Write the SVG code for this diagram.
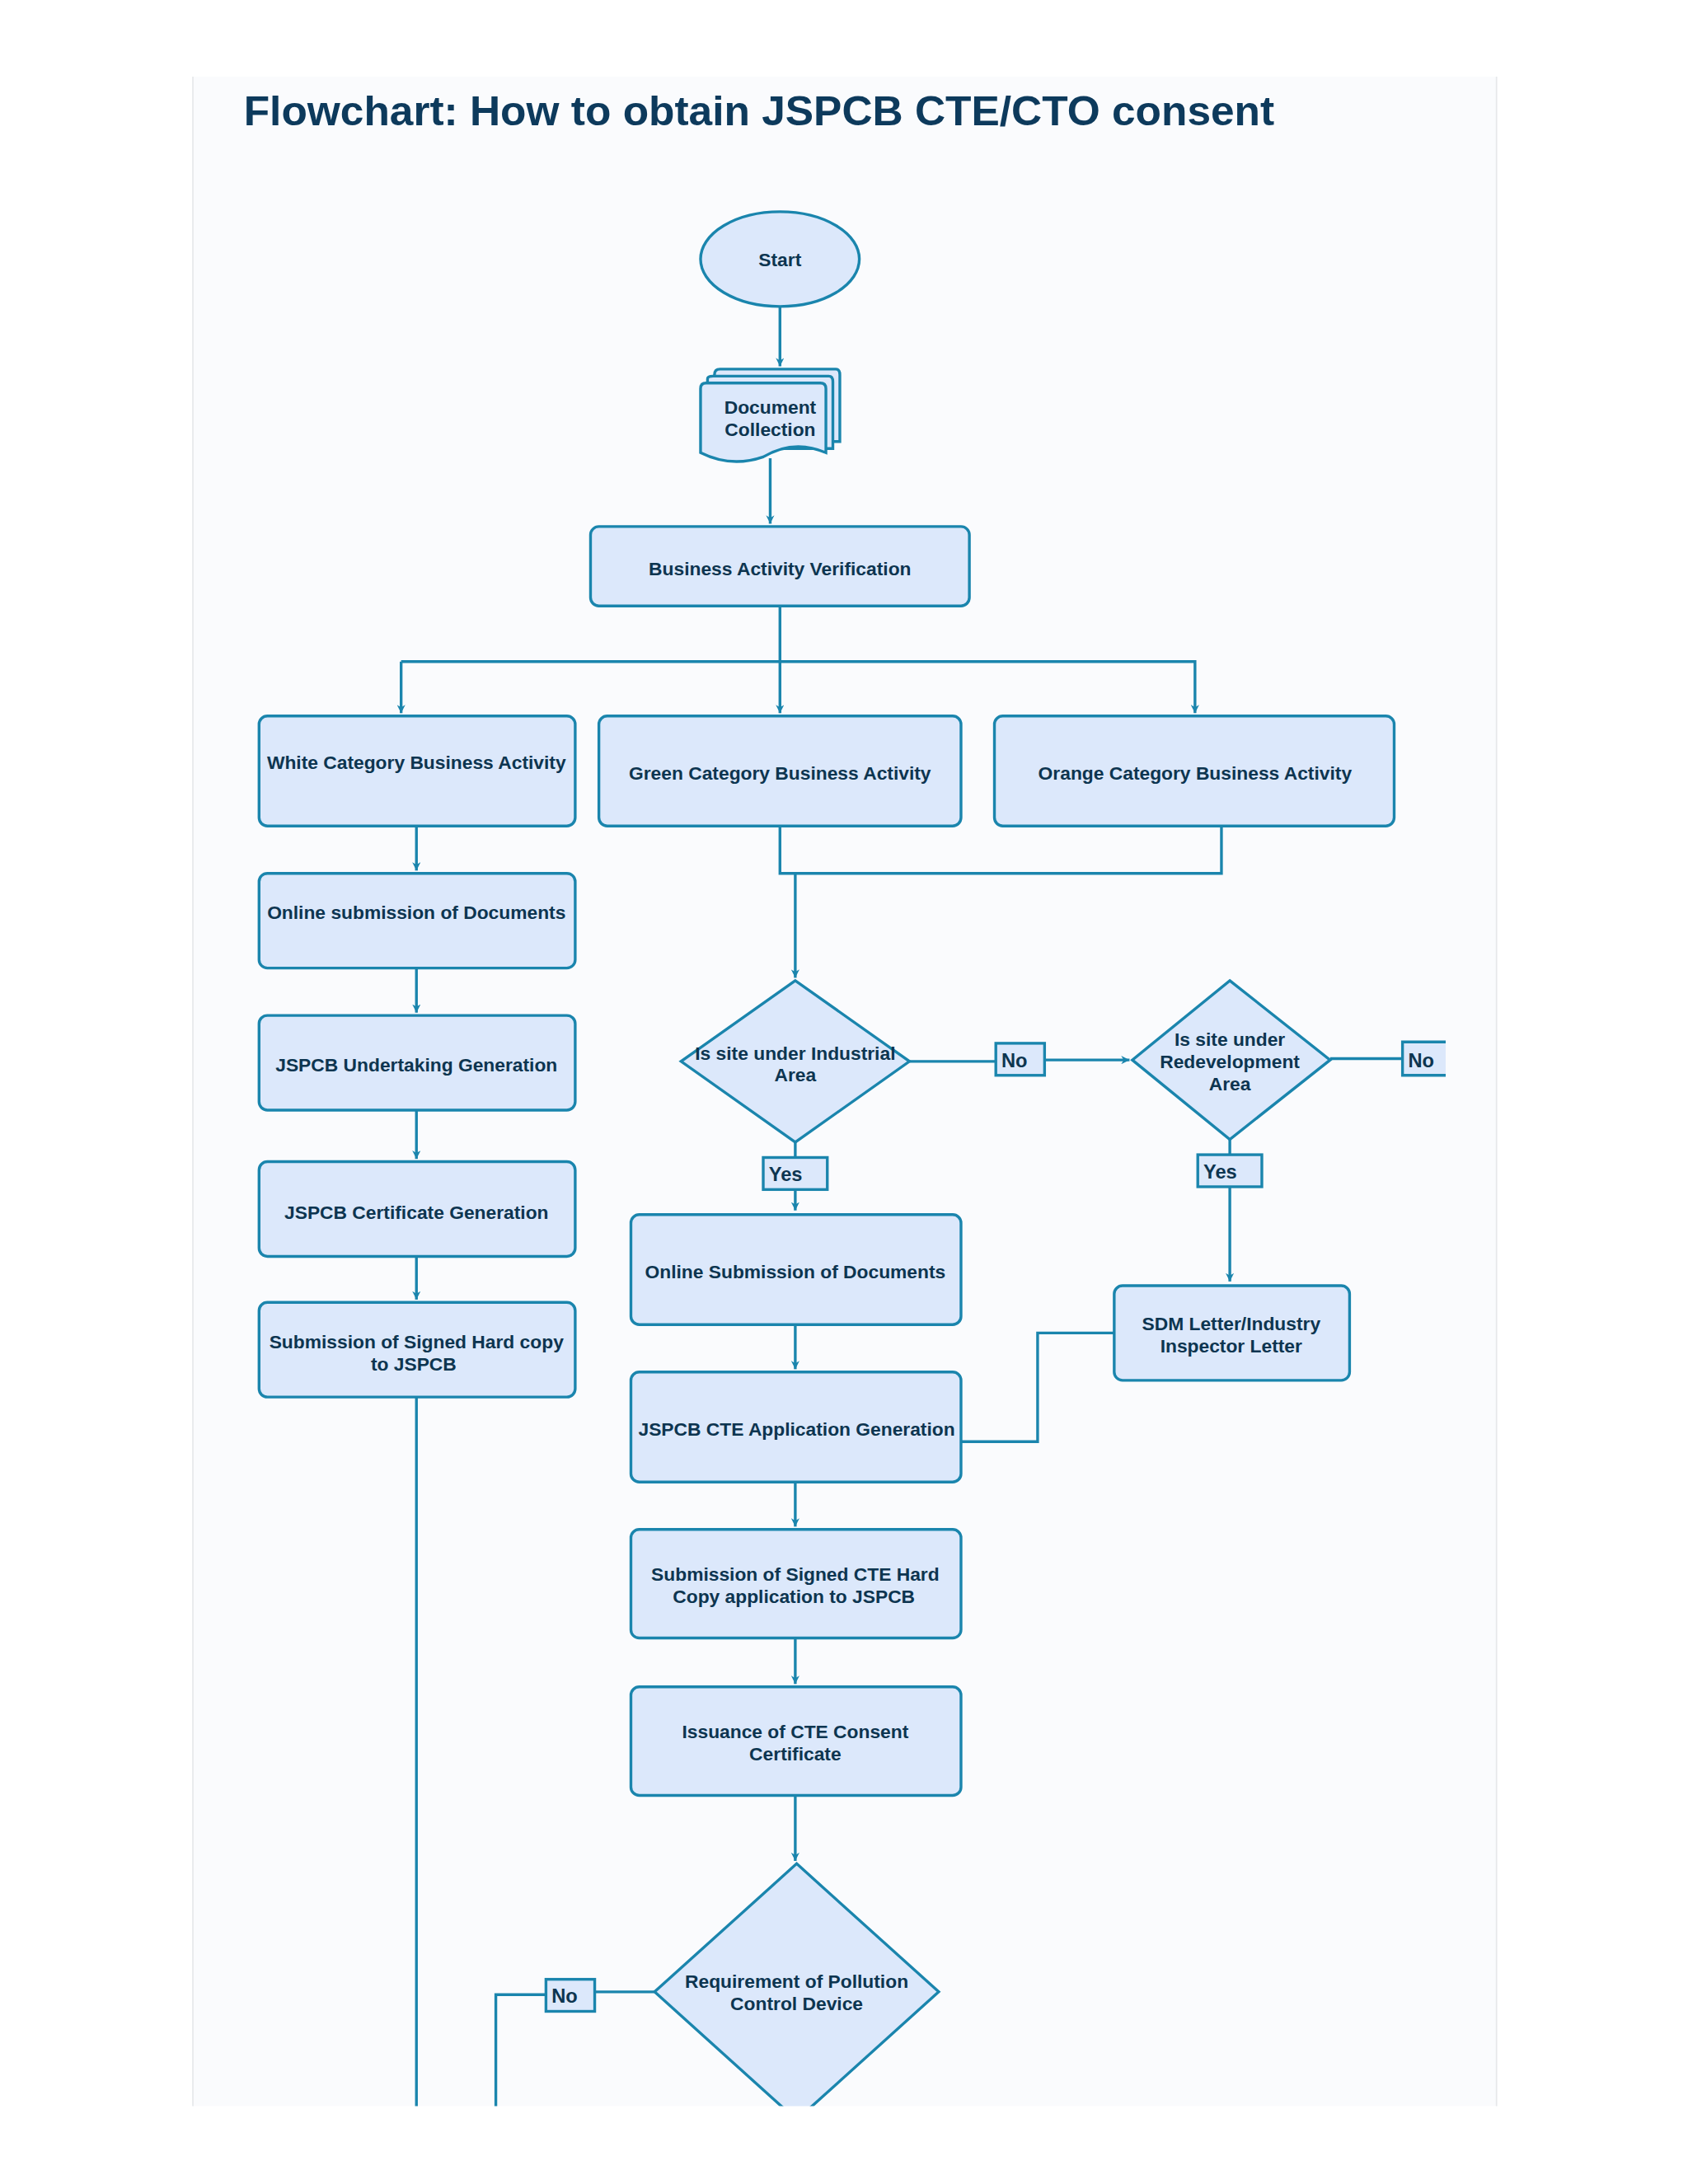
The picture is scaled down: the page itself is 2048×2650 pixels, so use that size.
<svg xmlns="http://www.w3.org/2000/svg" width="2048" height="2650" viewBox="0 0 2048 2650">
<defs>
<style>
.n{fill:#dce8fb;stroke:#1a85ad;stroke-width:2}
.c{fill:none;stroke:#1a85ad;stroke-width:2}
.t{font-family:"Liberation Sans",Arial,sans-serif;font-weight:bold;font-size:13.5px;fill:#0d3550;text-anchor:middle}
.lb{fill:#dce8fb;stroke:#1a85ad;stroke-width:2}
.lt{font-family:"Liberation Sans",Arial,sans-serif;font-weight:bold;font-size:14px;fill:#0d3550}
</style>
<marker id="a" viewBox="0 0 10 10" refX="10" refY="5" markerWidth="6" markerHeight="6" orient="auto" markerUnits="userSpaceOnUse">
<path d="M0,0 L10,5 L0,10 L3,5 Z" fill="#1a85ad"/>
</marker>
<clipPath id="cp"><rect x="0" y="0" width="1038" height="1512"/></clipPath>
</defs>
<rect width="2048" height="2650" fill="#ffffff"/>
<g transform="scale(1.6898,1.6901)">
<rect x="138" y="55" width="937" height="1457" fill="#fafbfd"/>
<line x1="138.5" y1="55" x2="138.5" y2="1512" stroke="#e6e8ea" stroke-width="1"/>
<line x1="1074.5" y1="55" x2="1074.5" y2="1512" stroke="#e6e8ea" stroke-width="1"/>
<text x="175" y="90" font-family="'Liberation Sans',Arial,sans-serif" font-weight="bold" font-size="30" fill="#0d3a5c" textLength="740" lengthAdjust="spacingAndGlyphs">Flowchart: How to obtain JSPCB CTE/CTO consent</text>
<g clip-path="url(#cp)">
<g id="connectors">
<path class="c" d="M560,220 V263" marker-end="url(#a)"/>
<path class="c" d="M553,329 V376" marker-end="url(#a)"/>
<path class="c" d="M560,435 V512" marker-end="url(#a)"/>
<path class="c" d="M288,475 H858 V512" marker-end="url(#a)"/>
<path class="c" d="M288,475 V512" marker-end="url(#a)"/>
<path class="c" d="M299,593 V625" marker-end="url(#a)"/>
<path class="c" d="M299,695 V727" marker-end="url(#a)"/>
<path class="c" d="M299,797 V832" marker-end="url(#a)"/>
<path class="c" d="M299,902 V933" marker-end="url(#a)"/>
<path class="c" d="M299,1003 V1520"/>
<path class="c" d="M560,593 V627 H877 V593"/>
<path class="c" d="M571,627 V702" marker-end="url(#a)"/>
<path class="c" d="M653,762 H715"/>
<path class="c" d="M750,761 H811" marker-end="url(#a)"/>
<path class="c" d="M955,760 H1007"/>
<path class="c" d="M571,820 V831"/>
<path class="c" d="M571,854 V869" marker-end="url(#a)"/>
<path class="c" d="M883,818 V829"/>
<path class="c" d="M883,852 V920" marker-end="url(#a)"/>
<path class="c" d="M800,957 H745 V1035 H690"/>
<path class="c" d="M571,951 V983" marker-end="url(#a)"/>
<path class="c" d="M571,1064 V1096" marker-end="url(#a)"/>
<path class="c" d="M571,1176 V1209" marker-end="url(#a)"/>
<path class="c" d="M571,1289 V1336" marker-end="url(#a)"/>
<path class="c" d="M470,1430 H427"/>
<path class="c" d="M392,1432 H356 V1520"/>
<rect class="lb" x="715" y="749" width="35" height="23"/><text class="lt" x="719" y="766">No</text>
<path class="lb" d="M1040,748 H1007 V772 H1040"/><text class="lt" x="1011" y="766">No</text>
<rect class="lb" x="548" y="831" width="46" height="23"/><text class="lt" x="552" y="848">Yes</text>
<rect class="lb" x="860" y="829" width="46" height="23"/><text class="lt" x="864" y="846">Yes</text>
<rect class="lb" x="392" y="1421" width="35" height="23"/><text class="lt" x="396" y="1438">No</text>
</g>
<g id="start"><ellipse class="n" cx="560" cy="186" rx="57" ry="34"/><text class="t" x="560" y="191">Start</text></g>
<g id="doc">
<path class="n" d="M513,269 Q513,265 517,265 H600 Q603,265 603,269 V317 L513,317 Z"/>
<path class="n" d="M508,272 Q508,270 512,270 H595 Q598,270 598,274 V322 L508,322 Z"/>
<path class="n" d="M503,279 Q503,275 507,275 H589 Q593,275 593,279 V325 Q570,315 548,328 Q525,336 503,325 Z"/>
<text class="t" x="553" y="297">Document</text><text class="t" x="553" y="313">Collection</text>
</g>
<g id="bav"><rect class="n" x="424" y="378" width="272" height="57" rx="6"/><text class="t" x="560" y="413">Business Activity Verification</text></g>
<g id="white"><rect class="n" x="186" y="514" width="227" height="79" rx="6"/><text class="t" x="299" y="552">White Category Business Activity</text></g>
<g id="green"><rect class="n" x="430" y="514" width="260" height="79" rx="6"/><text class="t" x="560" y="560">Green Category Business Activity</text></g>
<g id="orange"><rect class="n" x="714" y="514" width="287" height="79" rx="6"/><text class="t" x="858" y="560">Orange Category Business Activity</text></g>
<g id="w1"><rect class="n" x="186" y="627" width="227" height="68" rx="6"/><text class="t" x="299" y="660">Online submission of Documents</text></g>
<g id="w2"><rect class="n" x="186" y="729" width="227" height="68" rx="6"/><text class="t" x="299" y="769">JSPCB Undertaking Generation</text></g>
<g id="w3"><rect class="n" x="186" y="834" width="227" height="68" rx="6"/><text class="t" x="299" y="875">JSPCB Certificate Generation</text></g>
<g id="w4"><rect class="n" x="186" y="935" width="227" height="68" rx="6"/><text class="t" x="299" y="968">Submission of Signed Hard copy</text><text class="t" x="297" y="984">to JSPCB</text></g>
<g id="d1"><path class="n" d="M571,704 L653,762 L571,820 L489,762 Z"/><text class="t" x="571" y="761">Is site under Industrial</text><text class="t" x="571" y="776">Area</text></g>
<g id="d2"><path class="n" d="M883,704 L955,761 L883,818 L813,761 Z"/><text class="t" x="883" y="751">Is site under</text><text class="t" x="883" y="767">Redevelopment</text><text class="t" x="883" y="783">Area</text></g>
<g id="g1"><rect class="n" x="453" y="872" width="237" height="79" rx="6"/><text class="t" x="571" y="918">Online Submission of Documents</text></g>
<g id="sdm"><rect class="n" x="800" y="923" width="169" height="68" rx="6"/><text class="t" x="884" y="955">SDM Letter/Industry</text><text class="t" x="884" y="971">Inspector Letter</text></g>
<g id="g2"><rect class="n" x="453" y="985" width="237" height="79" rx="6"/><text class="t" x="572" y="1031">JSPCB CTE Application Generation</text></g>
<g id="g3"><rect class="n" x="453" y="1098" width="237" height="78" rx="6"/><text class="t" x="571" y="1135">Submission of Signed CTE Hard</text><text class="t" x="570" y="1151">Copy application to JSPCB</text></g>
<g id="g4"><rect class="n" x="453" y="1211" width="237" height="78" rx="6"/><text class="t" x="571" y="1248">Issuance of CTE Consent</text><text class="t" x="571" y="1264">Certificate</text></g>
<g id="d3"><path class="n" d="M572,1338 L674,1430 L572,1522 L470,1430 Z"/><text class="t" x="572" y="1427">Requirement of Pollution</text><text class="t" x="572" y="1443">Control Device</text></g>
</g>
</g>
</svg>
